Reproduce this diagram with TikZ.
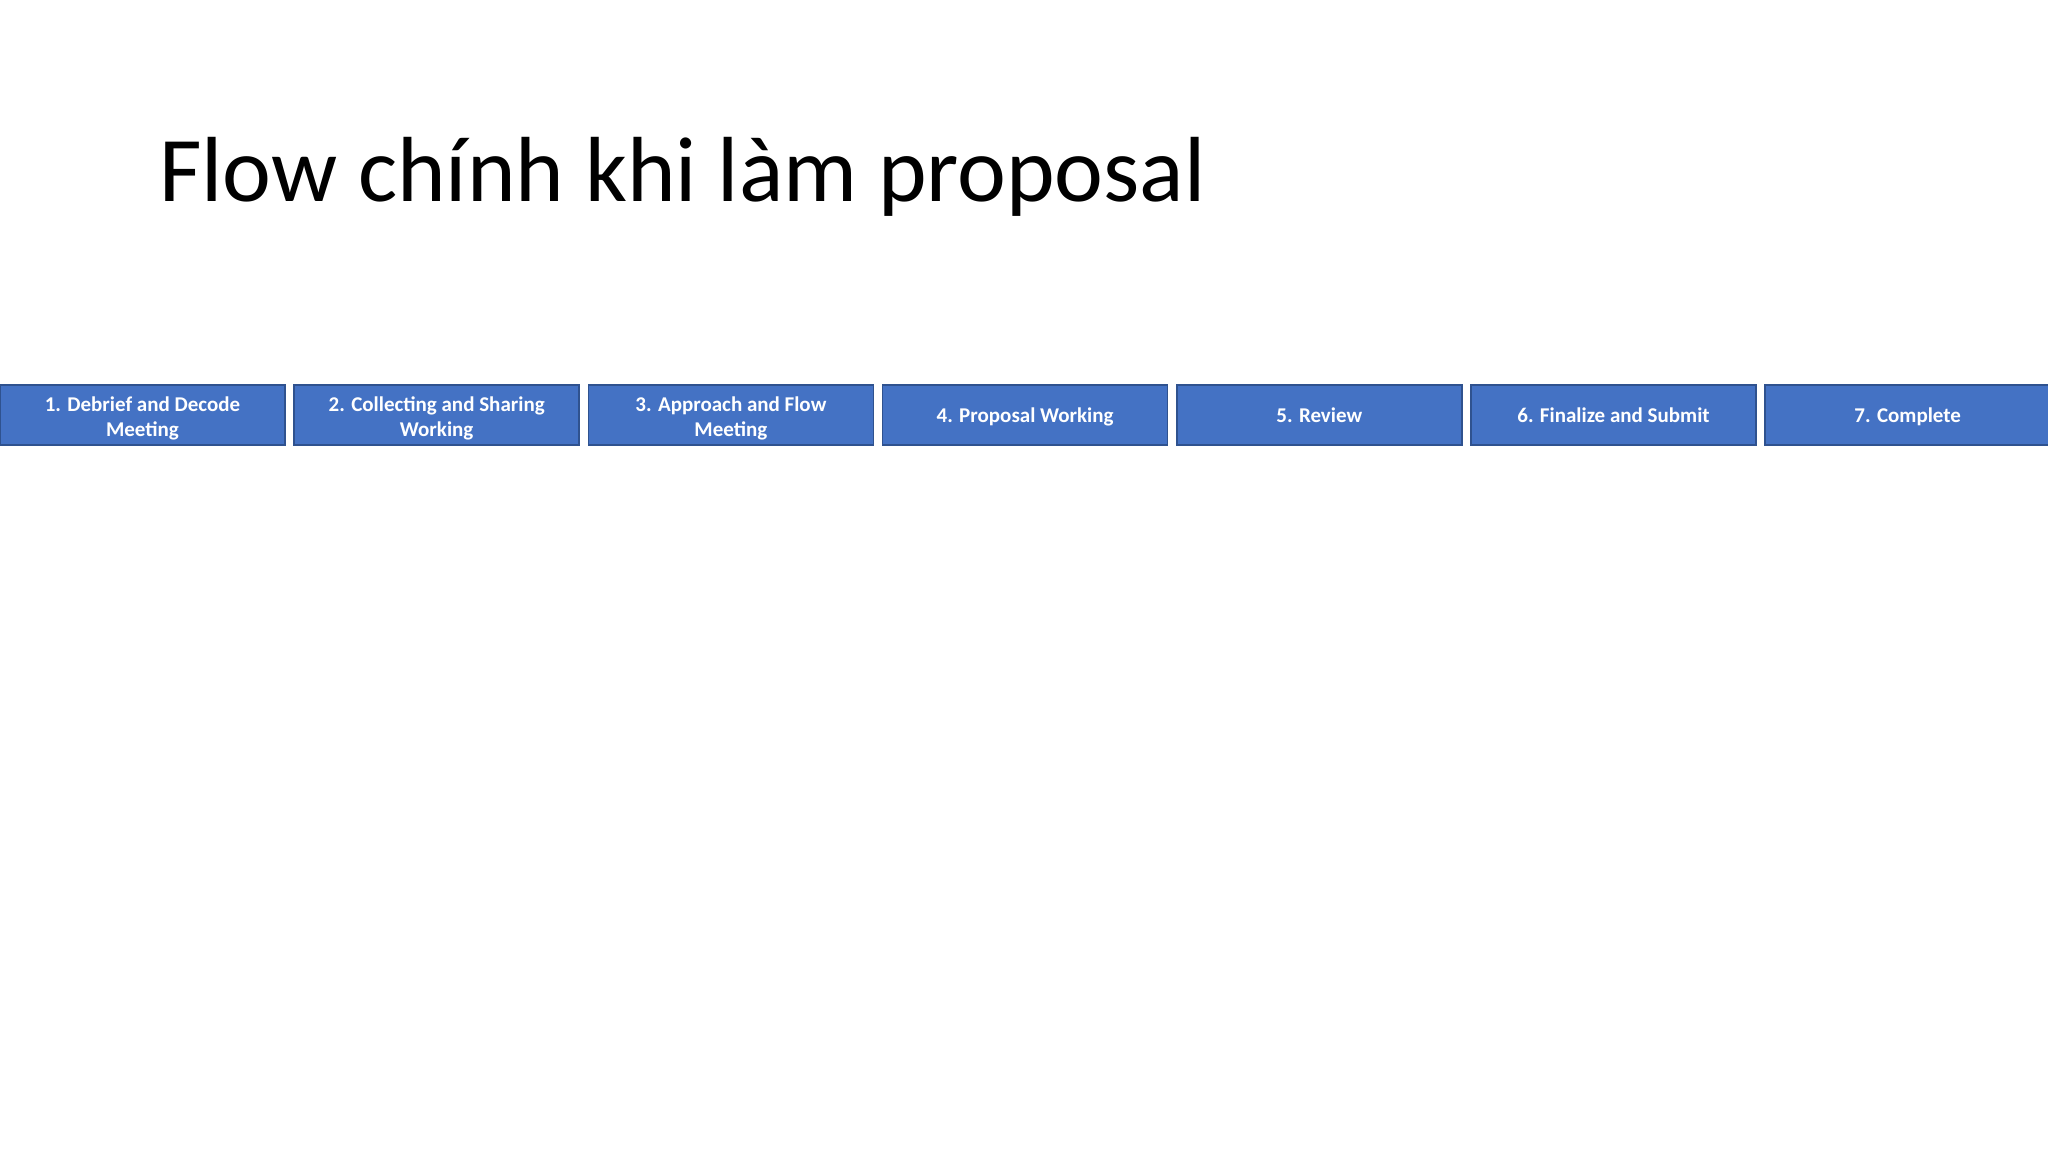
\documentclass[tikz,border=0pt]{standalone}
\usepackage{fontspec}
\setmainfont{Carlito}
\definecolor{stepblue}{HTML}{4472C4}
\definecolor{stepedge}{HTML}{2F528F}
\begin{document}
\begin{tikzpicture}[x=1pt,y=1pt]
\tikzstyle{stepbox}=[draw=stepedge, fill=stepblue, line width=1.5pt, minimum width=285pt, minimum height=60pt, inner sep=0pt, text=white, align=center, font=\bfseries\fontsize{21}{25.5}\selectfont]
\tikzstyle{oneline}=[text height=15pt, text depth=0pt]
\tikzstyle{twoline}=[text height=47pt]
\useasboundingbox (0,0) rectangle (2048,1152);
\node[anchor=base west, inner sep=0pt, font=\fontsize{92.5}{112}\selectfont] (title) at (159,950) {Flow chính khi làm proposal};
\node[stepbox, twoline] (s1) at (142.5,737) {1. Debrief and Decode\\Meeting};
\node[stepbox, twoline] (s2) at (436.7,737) {2. Collecting and Sharing\\Working};
\node[stepbox, twoline] (s3) at (730.9,737) {3. Approach and Flow\\Meeting};
\node[stepbox, oneline] (s4) at (1025.1,737) {4. Proposal Working};
\node[stepbox, oneline] (s5) at (1319.3,737) {5. Review};
\node[stepbox, oneline] (s6) at (1613.5,737) {6. Finalize and Submit};
\node[stepbox, oneline] (s7) at (1907.7,737) {7. Complete};
\end{tikzpicture}
\end{document}
